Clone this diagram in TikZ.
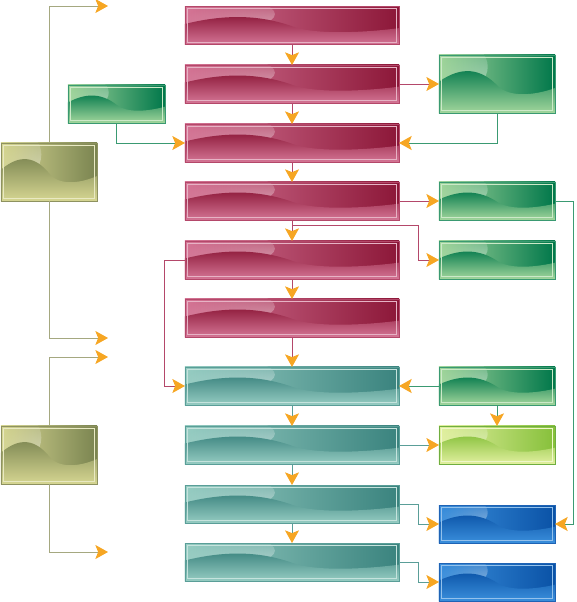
\documentclass[tikz,border=0pt]{standalone}
\usetikzlibrary{arrows.meta}
\usetikzlibrary{calc}
\usetikzlibrary{fadings}

\definecolor{crimD}{HTML}{8C1738}
\definecolor{crimL}{HTML}{D47595}
\definecolor{crimB}{HTML}{B4486A}
\definecolor{tealD}{HTML}{3A837E}
\definecolor{tealL}{HTML}{96CCC2}
\definecolor{tealB}{HTML}{5A9E98}
\definecolor{grnD}{HTML}{00774A}
\definecolor{grnL}{HTML}{A2D69C}
\definecolor{grnB}{HTML}{3A9A72}
\definecolor{limeD}{HTML}{86C03A}
\definecolor{limeL}{HTML}{E2F0A0}
\definecolor{limeB}{HTML}{6FAE40}
\definecolor{bluD}{HTML}{0A52A6}
\definecolor{bluL}{HTML}{3A8FDC}
\definecolor{bluB}{HTML}{1F63B5}
\definecolor{olvD}{HTML}{7A8450}
\definecolor{olvL}{HTML}{D6D692}
\definecolor{olvB}{HTML}{8E9260}
\definecolor{tipO}{HTML}{F6A623}

\tikzfading[name=glow, inner color=transparent!60, outer color=transparent!100]

\tikzset{glossy/.style={draw=#1B, line width=0.6pt, inner sep=0pt, outer sep=0pt,
  left color=#1L, right color=#1D,
  path picture={
    \fill[white, path fading=glow]
      let \p1=(path picture bounding box.south west), \p2=(path picture bounding box.north east) in
      ({\x1+0.2*(\x2-\x1)},{\y1+0.8*(\y2-\y1)}) ellipse [x radius={0.22*(\x2-\x1)}, y radius={0.4*(\y2-\y1)}];
    \shade[top color=#1D, bottom color=#1L]
      let \p1=(path picture bounding box.south west), \p2=(path picture bounding box.north east) in
      (\x1,{\y1+0.54*(\y2-\y1)})
      .. controls ({\x1+0.2*(\x2-\x1)},{\y1+0.82*(\y2-\y1)}) and ({\x1+0.36*(\x2-\x1)},{\y1+0.76*(\y2-\y1)}) .. ({\x1+0.5*(\x2-\x1)},{\y1+0.48*(\y2-\y1)})
      .. controls ({\x1+0.6*(\x2-\x1)},{\y1+0.26*(\y2-\y1)}) and ({\x1+0.82*(\x2-\x1)},{\y1+0.3*(\y2-\y1)}) .. (\x2,{\y1+0.43*(\y2-\y1)})
      -- (\x2,\y1) -- (\x1,\y1) -- cycle;
    \draw[#1L!55!white, line width=0.5pt]
      let \p1=(path picture bounding box.south west), \p2=(path picture bounding box.north east) in
      ({\x1+1.6pt},{\y1+1.6pt}) rectangle ({\x2-1.6pt},{\y2-1.6pt});
  }}}
\tikzset{mainbox/.style={minimum width=5.35cm, minimum height=0.95cm}}
\tikzset{sidebox/.style={minimum width=2.9cm, minimum height=0.95cm}}
\tikzset{bigbox/.style={minimum width=2.4cm, minimum height=1.45cm}}
\tikzset{link/.style={draw=#1, line width=0.7pt, -{Stealth[color=tipO, length=9pt, width=10pt, inset=2pt]}}}

\begin{document}
\begin{tikzpicture}[x=0.025cm, y=-0.025cm]
\useasboundingbox (0,0) rectangle (576,602);
% main column
\foreach \n/\y in {1/25.5, 2/84, 3/143, 4/201, 5/260, 6/318}
  \node[glossy=crim, mainbox] (m\n) at (292,\y) {};
\foreach \n/\y in {7/386, 8/445, 9/504, 10/562}
  \node[glossy=teal, mainbox] (m\n) at (292,\y) {};
% right column
\node[glossy=grn, sidebox, minimum height=1.45cm] (r1) at (497,84) {};
\node[glossy=grn, sidebox] (r2) at (497,201) {};
\node[glossy=grn, sidebox] (r3) at (497,260) {};
\node[glossy=grn, sidebox] (r4) at (497,386) {};
\node[glossy=lime, sidebox] (r5) at (497,445) {};
\node[glossy=blu, sidebox] (r6) at (497,524) {};
\node[glossy=blu, sidebox] (r7) at (497,582) {};
% left side
\node[glossy=grn, sidebox, minimum width=2.425cm] (lg) at (116.5,104) {};
\node[glossy=olv, bigbox] (o1) at (49,172) {};
\node[glossy=olv, bigbox] (o2) at (49,455) {};
\coordinate (c1) at (108,6);
\coordinate (c2) at (108,338);
\coordinate (c3) at (108,357);
\coordinate (c4) at (108,552);

\draw[link=olvB!80!white] (o1.north) |- (c1);
\draw[link=olvB!80!white] (o1.south) |- (c2);
\draw[link=olvB!80!white] (o2.north) |- (c3);
\draw[link=olvB!80!white] (o2.south) |- (c4);

\foreach \a/\b in {1/2, 2/3, 3/4, 4/5, 5/6, 6/7}
  \draw[link=crimB] (m\a) -- (m\b);
\foreach \a/\b in {7/8, 8/9, 9/10}
  \draw[link=tealB] (m\a) -- (m\b);

\draw[link=grnB] (lg.south) |- (m3.west);
\draw[link=crimB] (m2.east) -- (r1.west);
\draw[link=grnB] (r1.south) |- (m3.east);
\draw[link=crimB] (m4.east) -- (r2.west);
\draw[link=crimB] (m4.south) -- ++(0,5) -- ++(126,0) |- (r3.west);
\draw[link=crimB] (m5.west) -- ++(-20,0) |- (m7.west);
\draw[link=grnB] (r2.east) -- ++(18,0) |- (r6.east);
\draw[link=grnB] (r4.west) -- (m7.east);
\draw[link=grnB] (r4.south) -- (r5.north);
\draw[link=tealB] (m8.east) -- (r5.west);
\draw[link=tealB] (m9.east) -- ++(19,0) |- (r6.west);
\draw[link=tealB] (m10.east) -- ++(19,0) |- (r7.west);
\end{tikzpicture}
\end{document}
